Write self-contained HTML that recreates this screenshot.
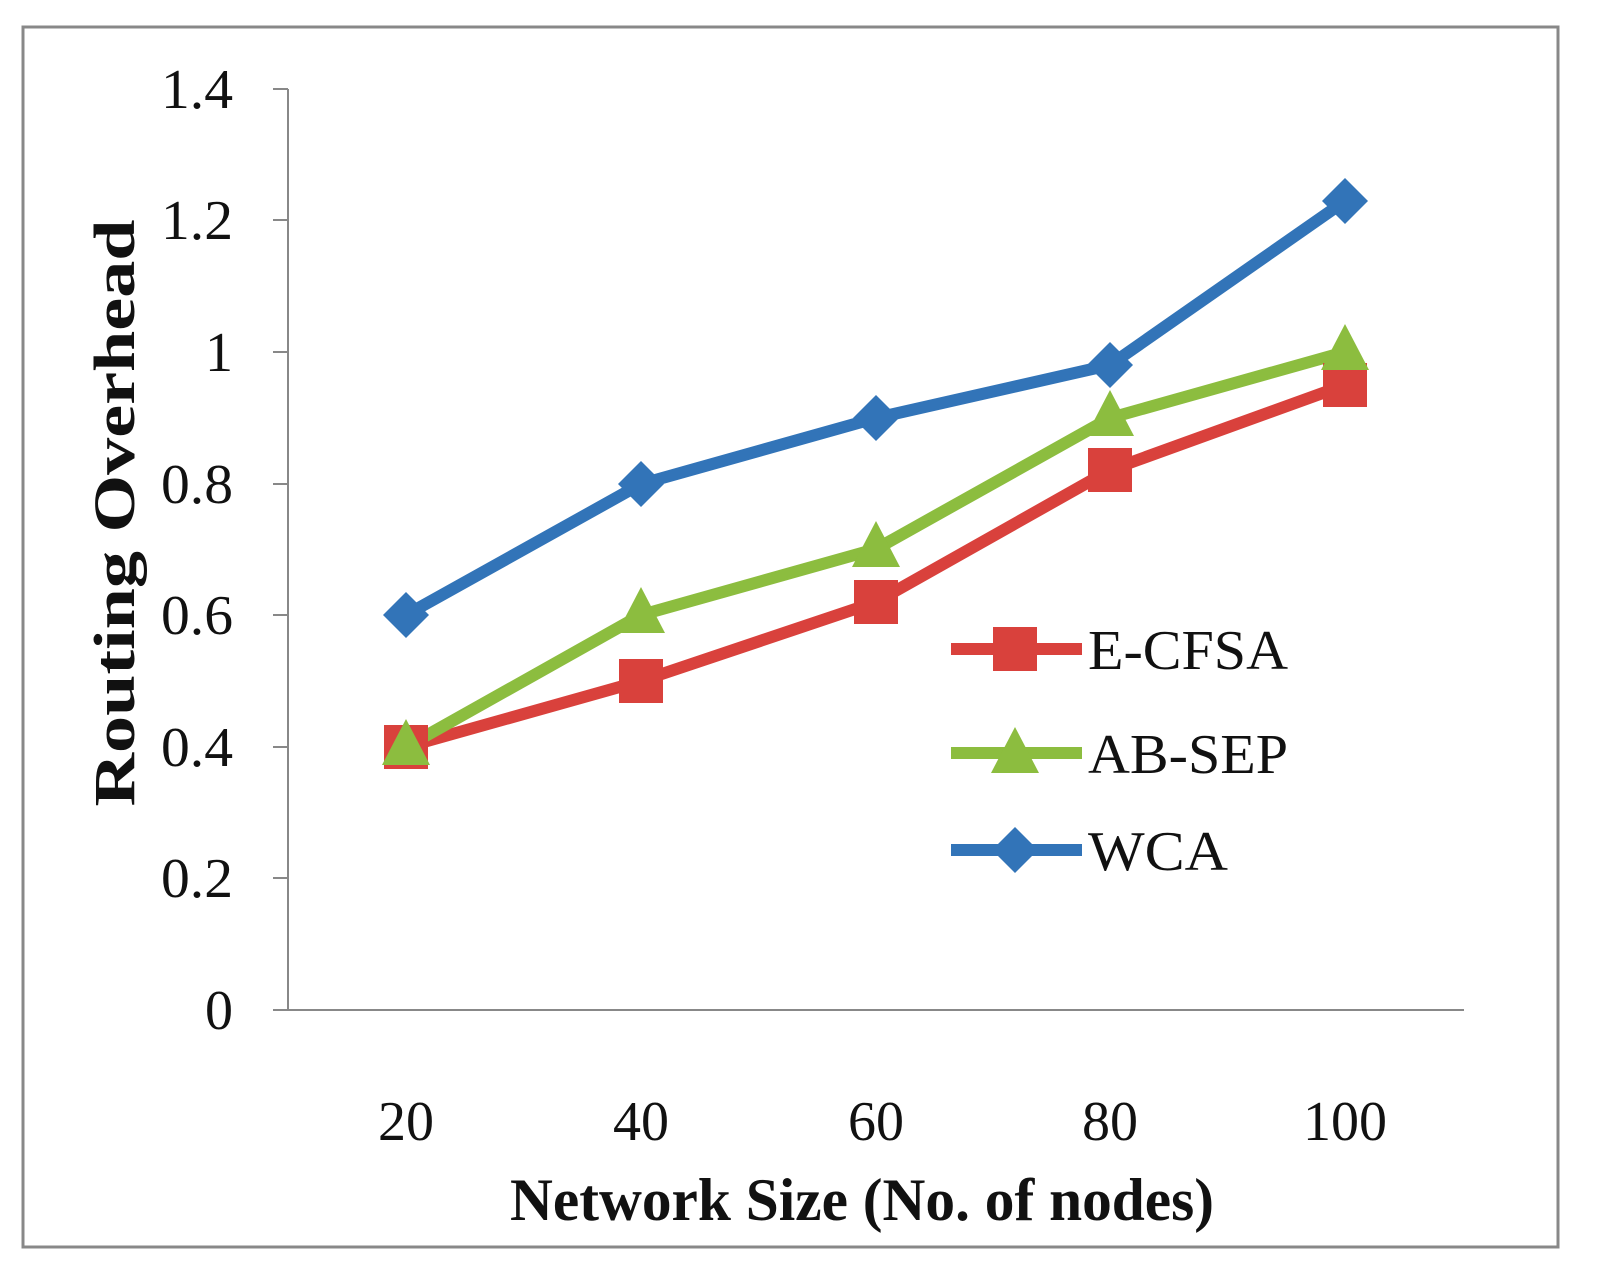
<!DOCTYPE html><html><head><style>body{margin:0;background:#fff}</style></head><body>
<svg width="1599" height="1283" viewBox="0 0 1599 1283" xmlns="http://www.w3.org/2000/svg">
<rect x="0" y="0" width="1599" height="1283" fill="#fff"/>
<rect x="23" y="27" width="1535" height="1220" fill="none" stroke="#888" stroke-width="3"/>
<g stroke="#888" stroke-width="2">
<line x1="288" y1="89" x2="288" y2="1010"/>
<line x1="273" y1="1010" x2="1464" y2="1010"/>
<line x1="273" y1="89" x2="288" y2="89"/><line x1="273" y1="220" x2="288" y2="220"/><line x1="273" y1="352" x2="288" y2="352"/><line x1="273" y1="484" x2="288" y2="484"/><line x1="273" y1="615" x2="288" y2="615"/><line x1="273" y1="747" x2="288" y2="747"/><line x1="273" y1="878" x2="288" y2="878"/>
</g>
<g font-family="Liberation Serif, serif" font-size="56" fill="#111" text-anchor="end">
<text x="233" y="108" textLength="72" lengthAdjust="spacingAndGlyphs">1.4</text><text x="233" y="239" textLength="72" lengthAdjust="spacingAndGlyphs">1.2</text><text x="233" y="371">1</text><text x="233" y="503" textLength="72" lengthAdjust="spacingAndGlyphs">0.8</text><text x="233" y="634" textLength="72" lengthAdjust="spacingAndGlyphs">0.6</text><text x="233" y="766" textLength="72" lengthAdjust="spacingAndGlyphs">0.4</text><text x="233" y="897" textLength="72" lengthAdjust="spacingAndGlyphs">0.2</text><text x="233" y="1029">0</text>
</g>
<g font-family="Liberation Serif, serif" font-size="56" fill="#111" text-anchor="middle">
<text x="406" y="1140">20</text><text x="641" y="1140">40</text><text x="876" y="1140">60</text><text x="1110" y="1140">80</text><text x="1345" y="1140">100</text>
</g>
<text x="862" y="1220" font-family="Liberation Serif, serif" font-weight="bold" font-size="60" text-anchor="middle" fill="#111" textLength="704" lengthAdjust="spacingAndGlyphs">Network  Size (No. of nodes)</text>
<text transform="translate(134,513) rotate(-90)" font-family="Liberation Serif, serif" font-weight="bold" font-size="58" text-anchor="middle" fill="#111" textLength="587" lengthAdjust="spacingAndGlyphs">Routing Overhead</text>
<g fill="none" stroke-width="12" stroke-linejoin="round">
<polyline stroke="#d9413c" points="406,747 641,681 876,602 1110,470 1345,385"/>
<polyline stroke="#8cbd3f" points="406,747 641,615 876,549 1110,418 1345,352"/>
<polyline stroke="#3274b8" points="406,615 641,484 876,418 1110,365 1345,201"/>
</g>
<g fill="#d9413c"><rect x="384" y="725" width="44" height="44"/><rect x="619" y="659" width="44" height="44"/><rect x="854" y="580" width="44" height="44"/><rect x="1088" y="448" width="44" height="44"/><rect x="1323" y="363" width="44" height="44"/></g>
<g fill="#8cbd3f"><polygon points="406,719 430,765 382,765"/><polygon points="641,587 665,633 617,633"/><polygon points="876,521 900,567 852,567"/><polygon points="1110,390 1134,436 1086,436"/><polygon points="1345,324 1369,370 1321,370"/></g>
<g fill="#3274b8"><polygon points="406,592 429,615 406,638 383,615"/><polygon points="641,461 664,484 641,507 618,484"/><polygon points="876,395 899,418 876,441 853,418"/><polygon points="1110,342 1133,365 1110,388 1087,365"/><polygon points="1345,178 1368,201 1345,224 1322,201"/></g>
<g stroke-width="12">
<line x1="951" y1="649" x2="1082" y2="649" stroke="#d9413c"/><rect x="993" y="627" width="44" height="44" fill="#d9413c" stroke="none"/>
<line x1="951" y1="753" x2="1082" y2="753" stroke="#8cbd3f"/><polygon points="1015,727 1039,773 991,773" fill="#8cbd3f" stroke="none"/>
<line x1="951" y1="850" x2="1082" y2="850" stroke="#3274b8"/><polygon points="1015,827 1038,850 1015,873 992,850" fill="#3274b8" stroke="none"/>
</g>
<g font-family="Liberation Serif, serif" font-size="56" fill="#111">
<text x="1088" y="669" textLength="200" lengthAdjust="spacingAndGlyphs">E-CFSA</text><text x="1088" y="773" textLength="200" lengthAdjust="spacingAndGlyphs">AB-SEP</text><text x="1088" y="870" textLength="140" lengthAdjust="spacingAndGlyphs">WCA</text>
</g>
</svg>
</body></html>
